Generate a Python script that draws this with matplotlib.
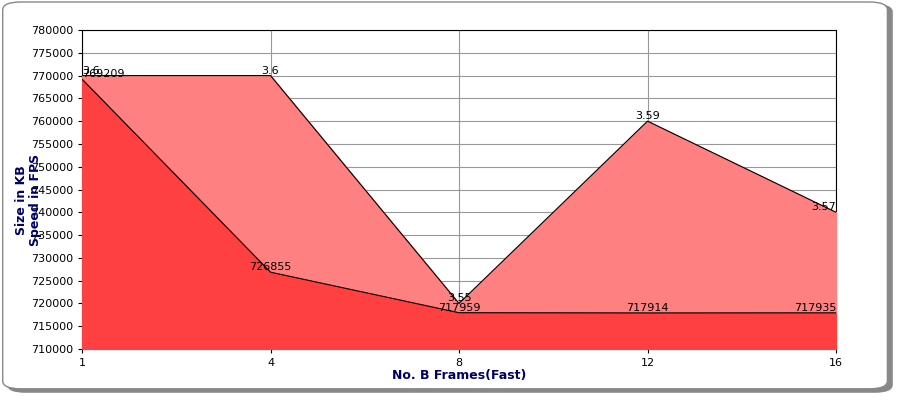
import matplotlib.pyplot as plt
from matplotlib.patches import FancyBboxPatch

frames = ["1", "4", "8", "12", "16"]
size_kb = [769209, 726855, 717959, 717914, 717935]
speed_fps = [3.6, 3.6, 3.55, 3.59, 3.57]
speed_labels = ["3.6", "3.6", "3.55", "3.59", "3.57"]

fig = plt.figure(figsize=(9, 4), dpi=100)
# rounded frame with shadow
fig.patches.append(FancyBboxPatch((0.008, 0.018), 0.984, 0.972, boxstyle="round,pad=0,rounding_size=0.02",
                                  transform=fig.transFigure, fc="#888888", ec="none", zorder=-2))
fig.patches.append(FancyBboxPatch((0.003, 0.028), 0.983, 0.967, boxstyle="round,pad=0,rounding_size=0.02",
                                  transform=fig.transFigure, fc="white", ec="#888888", lw=1, zorder=-1))

ax = fig.add_axes([82 / 900, 51 / 400, 754 / 900, 319 / 400])
x = list(range(len(frames)))
ax.set_ylim(710000, 780000)
ax.set_xlim(0, len(frames) - 1)


def align(i):
    return "left" if i == 0 else ("right" if i == len(frames) - 1 else "center")


ax2 = ax.twinx()
ax2.set_ylim(3.54, 3.61)
ax2.fill_between(x, speed_fps, 3.54, color="#FF8080", zorder=1)
ax2.plot(x, speed_fps, color="black", lw=0.8)
for i, (xi, v, t) in enumerate(zip(x, speed_fps, speed_labels)):
    ax2.text(xi, v, t, ha=align(i), va="bottom", fontsize=8)
ax2.set_yticks([])
ax2.patch.set_visible(False)

# size series drawn on top
ax3 = ax.twinx()
ax3.set_ylim(710000, 780000)
ax3.fill_between(x, size_kb, 710000, color="#FF4040")
ax3.plot(x, size_kb, color="black", lw=0.8)
for i, (xi, v) in enumerate(zip(x, size_kb)):
    ax3.text(xi, v, str(v), ha=align(i), va="bottom", fontsize=8)
ax3.set_yticks([])
ax3.patch.set_visible(False)
for a in (ax2, ax3):
    for s in a.spines.values():
        s.set_visible(False)

ax.set_yticks(range(710000, 780001, 5000))
ax.set_xticks(x)
ax.set_xticklabels(frames)
ax.tick_params(labelsize=8, length=3)
ax.grid(True, color="#999999", lw=0.8)
ax.set_axisbelow(True)
ax.set_xlabel("No. B Frames(Fast)", color="#000066", fontweight="bold", fontsize=9, labelpad=1)
fig.text(0.024, 0.5, "Size in KB", rotation=90, ha="center", va="center",
         color="#000066", fontweight="bold", fontsize=9)
fig.text(0.039, 0.5, "Speed in FPS", rotation=90, ha="center", va="center",
         color="#000066", fontweight="bold", fontsize=9)
for s in ax.spines.values():
    s.set_color("black")

fig.savefig("out.png", dpi=100)
